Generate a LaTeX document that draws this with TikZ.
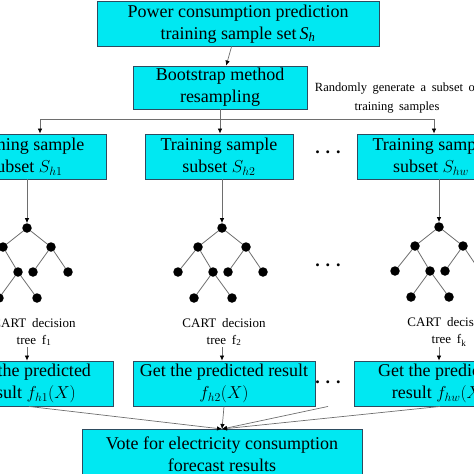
\documentclass[tikz,border=0pt]{standalone}
\usepackage{fontspec}
\setmainfont{Liberation Serif}
\usetikzlibrary{arrows.meta}
\definecolor{boxcyan}{RGB}{0,232,242}
\definecolor{boxline}{RGB}{45,75,95}
\definecolor{arrgray}{RGB}{110,110,110}
\newcommand{\bigtext}{\fontsize{18}{22}\selectfont}
\newcommand{\smalltext}{\fontsize{13}{17}\selectfont\spaceskip=0.45em plus 0.1em}

\begin{document}
\begin{tikzpicture}
  [x=1pt, y=-1pt,
   box/.style={draw=boxline, fill=boxcyan, line width=0.9pt, inner sep=0pt,
     align=center, font=\bigtext},
   arr/.style={draw=arrgray, line width=0.7pt,
     -{Latex[length=5pt,width=4.5pt,color=black]}},
   link/.style={draw=arrgray, line width=0.8pt},
   dot/.style={circle, fill=black, inner sep=0pt, minimum size=9.5pt}]
  \useasboundingbox (0,0) rectangle (474,474);
  % boxes
  \node[box, minimum width=282pt, minimum height=44.5pt] (set) at (238,23.75)
    {Power consumption prediction\\ training sample set\,\textit{S}\textsubscript{\textit{h}}};
  \node[box, minimum width=174pt, minimum height=43pt] (boot) at (220,87.5)
    {Bootstrap method\\resampling};
  \node[font={\fontsize{12.5}{19}\selectfont\spaceskip=0.45em plus 0.1em},
    align=center] (rand) at (397,97.5)
    {Randomly generate a subset of\\training samples};
  \foreach \nd/\x/\w/\lab in {1/26/160/1,2/219/148/2,3/431/148/w}{
    \node[box, minimum width=\w pt, minimum height=45pt] (sub\nd) at (\x,156.5)
      {Training sample\\subset $S_{h\lab}$}; }
  \node[box, minimum width=168pt, minimum height=45pt] (res1) at (29,383.5)
    {Get the predicted\\result $f_{h1}(X)$};
  \node[box, minimum width=182pt, minimum height=45pt] (res2) at (224,383.5)
    {Get the predicted result\\$f_{h2}(X)$};
  \node[box, minimum width=172pt, minimum height=45pt] (res3) at (440,383.5)
    {Get the predicted\\result $f_{hw}(X)$};
  \node[box, minimum width=280pt, minimum height=50pt, anchor=north] (vote) at (222,429)
    {Vote for electricity consumption\\forecast results};
  \foreach \nd/\y in {1/152,2/265,3/382}{
    \node[font=\bigtext\bfseries] (dots\nd) at (328,\y) {.\,\,.\,\,.}; }
  % trees
  \foreach \tr/\x/\y in {1/27/228,2/222/228,3/439/227}{
    \foreach \nd/\dx/\dy in {r/0/0,a/-24/19,b/24/19,c/-44/44,d/-9/44,
                             e/6/44,f/41/44,g/-28/70,h/10/70}{
      \node[dot] (t\tr\nd) at (\x+\dx,\y+\dy) {}; }
    \foreach \from/\to in {r/a,r/b,a/c,a/d,b/e,b/f,d/g,d/h}{
      \draw[link] (t\tr\from) -- (t\tr\to); }
  }
  \foreach \nd/\x/\lab in {1/34/1,2/224/2,3/449/k}{
    \node[font=\smalltext, align=center, inner sep=1pt] (cart\nd) at (\x,332)
      {CART decision\\tree f$_{\mathrm{\lab}}$}; }
  % connectors
  \draw[arr] (set) -- (boot);
  \coordinate (s1) at (40,119);
  \coordinate (s2) at (boot.south |- s1);
  \coordinate (s3) at (434,119);
  \draw[link] (boot) -- (s2);
  \draw[link] (s1) -- (s3);
  \draw[arr] (s1) -- (s1 |- sub1.north);
  \draw[arr] (s2) -- (s2 |- sub2.north);
  \draw[arr] (s3) -- (s3 |- sub3.north);
  \foreach \nd in {1,2,3}{
    \draw[arr] (sub\nd.south -| t\nd r) -- (t\nd r);
    \draw[arr] (t\nd r |- cart\nd.south) -- (t\nd r |- res\nd.north); }
  \coordinate (dv) at (dots3 |- res2.south);
  \foreach \from in {res1.south,res2.south,dv,res3.south}{
    \draw[arr] (\from) -- (vote.north); }
\end{tikzpicture}
\end{document}
